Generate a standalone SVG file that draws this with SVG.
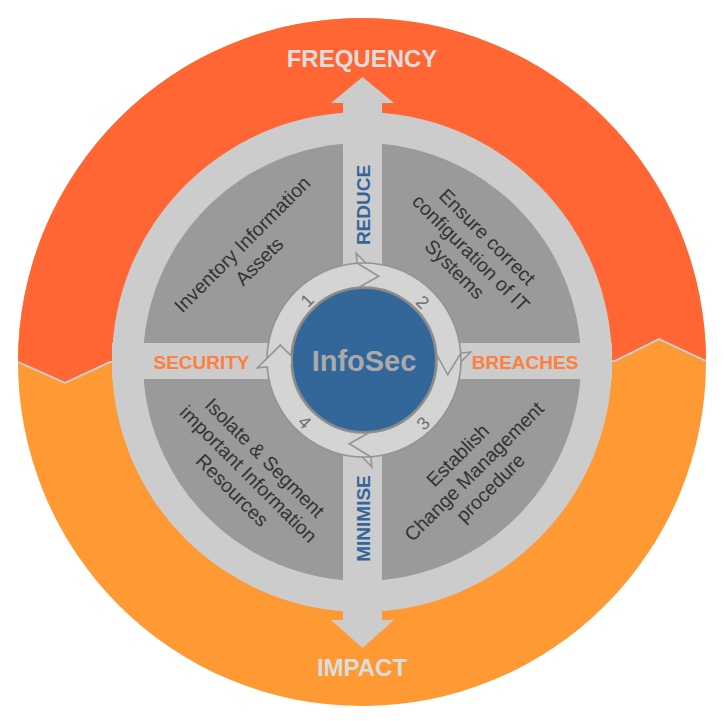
<svg xmlns="http://www.w3.org/2000/svg" xmlns:xlink="http://www.w3.org/1999/xlink" width="724" height="721" viewBox="0 0 724 721">
<style>
.lbl{font-family:"Liberation Sans",Arial,sans-serif;font-weight:bold;}
.big{font-size:24px;fill:#dddddd;text-anchor:middle;}
.side{font-size:19px;fill:#ff7f3f;text-anchor:middle;}
.vert{font-size:19px;fill:#336699;text-anchor:middle;}
.q{font-family:"Liberation Sans",Arial,sans-serif;font-size:19.5px;fill:#333333;text-anchor:middle;}
.num{font-family:"Liberation Sans",Arial,sans-serif;font-size:18px;fill:#6e6e6e;text-anchor:middle;}
.ring{fill:#d4d4d4;stroke:#939393;stroke-width:1.6;stroke-linejoin:miter;}
.light{fill:#cccccc;}
</style>
<defs>
<clipPath id="outerClip"><circle cx="362" cy="362" r="344"/></clipPath>
<path id="cyc" d="M -96.76 6.77 A 97 97 0 0 1 -6.77 -96.76 L -7.85 -106.7 L 14.76 -83.71 L -4.46 -63.85 L -5.09 -72.82 A 73 73 0 0 0 -72.82 5.09 L -83.71 -14.76 Z"/>
</defs>

<g id="background">
<circle cx="362" cy="362" r="344" fill="#ff9933"/>
<g clip-path="url(#outerClip)">
<path d="M 0 0 H 724 V 361 L 706 361 L 659 339 L 615 361 L 110 362 L 65 383 L 18 362 L 0 362 Z" fill="#ff6633"/>
<polyline points="0,362 18,362 65,383 110,362 615,361 659,339 706,361 724,361" fill="none" stroke="#cccccc" stroke-width="2"/>
</g>
</g>

<g id="wheel">
<circle class="light" cx="362" cy="362" r="250"/>
<circle cx="362" cy="362" r="219" fill="#9a9a9a"/>
<rect class="light" x="112" y="343" width="500" height="36"/>
</g>

<g id="axis-arrow">
<rect class="light" x="343" y="102" width="39" height="519"/>
<polygon class="light" points="331,103 362.5,77 394,103"/>
<polygon class="light" points="331,620 362.5,648 394,620"/>
</g>

<g id="frequency"><text class="lbl big" x="362" y="67">FREQUENCY</text></g>
<g id="impact"><text class="lbl big" x="362" y="676">IMPACT</text></g>

<g id="reduce"><text class="lbl vert" transform="translate(370 205) rotate(-90)">REDUCE</text></g>
<g id="minimise"><text class="lbl vert" transform="translate(370 518.5) rotate(-90)">MINIMISE</text></g>
<g id="security"><text class="lbl side" x="201.5" y="369">SECURITY</text></g>
<g id="breaches"><text class="lbl side" x="525" y="369">BREACHES</text></g>

<g id="q1-inventory">
<text class="q" transform="translate(247 249) rotate(-45)"><tspan x="0" y="0">Inventory Information</tspan><tspan x="0" y="24">Assets</tspan></text>
</g>
<g id="q2-configuration">
<text class="q" transform="translate(482.5 241.5) rotate(45)"><tspan x="0" y="0">Ensure correct</tspan><tspan x="0" y="23">configuration of IT</tspan><tspan x="0" y="46">Systems</tspan></text>
</g>
<g id="q3-change">
<text class="q" transform="translate(462.5 460) rotate(-45)"><tspan x="0" y="0">Establish</tspan><tspan x="0" y="23">Change Management</tspan><tspan x="0" y="46">procedure</tspan></text>
</g>
<g id="q4-isolate">
<text class="q" transform="translate(260 462.5) rotate(45)"><tspan x="0" y="0">Isolate &amp; Segment</tspan><tspan x="0" y="23">important Information</tspan><tspan x="0" y="46">Resources</tspan></text>
</g>

<g id="connectors">
<use xlink:href="#cyc" href="#cyc" class="ring" transform="translate(364 360)"/>
<use xlink:href="#cyc" href="#cyc" class="ring" transform="translate(364 360) rotate(90)"/>
<use xlink:href="#cyc" href="#cyc" class="ring" transform="translate(364 360) rotate(180)"/>
<use xlink:href="#cyc" href="#cyc" class="ring" transform="translate(364 360) rotate(270)"/>
</g>

<g id="step-numbers">
<text class="num" transform="translate(307 300) rotate(-45)" y="6.5">1</text>
<text class="num" transform="translate(423 302) rotate(45)" y="6.5">2</text>
<text class="num" transform="translate(423 423) rotate(-45)" y="6.5">3</text>
<text class="num" transform="translate(305 422) rotate(45)" y="6.5">4</text>
</g>

<g id="infosec">
<circle cx="364" cy="360" r="72" fill="#336699" stroke="#8a8a8a" stroke-width="2"/>
<text class="lbl" x="364" y="371" font-size="29" fill="#aaaaaa" text-anchor="middle">InfoSec</text>
</g>
</svg>
